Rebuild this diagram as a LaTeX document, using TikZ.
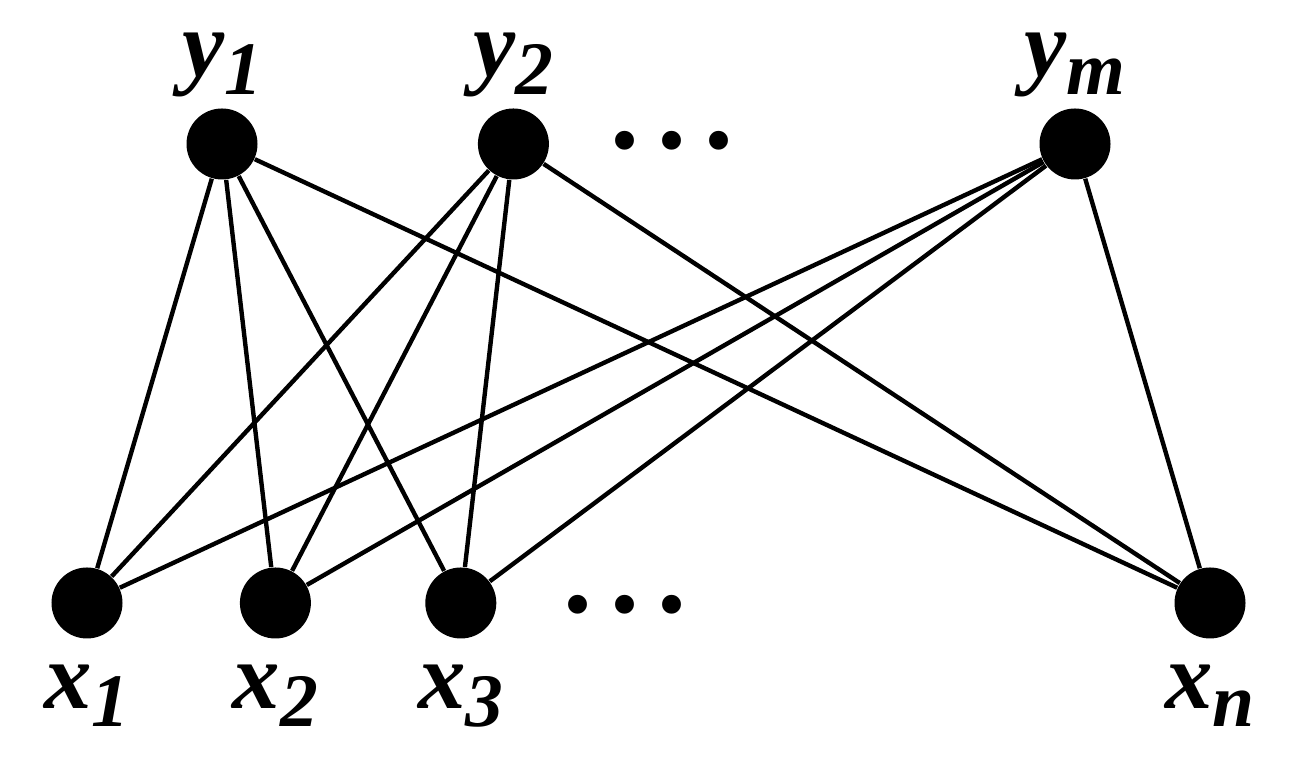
\documentclass[tikz,border=0pt]{standalone}
\usepackage{fontspec}
\setmainfont{Liberation Serif}
\usetikzlibrary{positioning}
\tikzstyle{vertex} = [circle, fill=black, draw=none, minimum size=0.71cm, inner sep=0pt]
\tikzstyle{edge} = [line width=1.25pt, black]
\tikzstyle{vlabel} = [inner sep=0pt, font=\bfseries\itshape]
\tikzstyle{dots} = [inner sep=0pt, font=\fontsize{33}{33}\selectfont\bfseries]
\newcommand{\vname}[2]{{\fontsize{27}{27}\selectfont #1}{\fontsize{21.5}{21.5}\selectfont\raisebox{-5.2pt}{#2}}}
\newcommand{\gapdots}{.\hspace{0.18cm}.\hspace{0.18cm}.}

\begin{document}
\begin{tikzpicture}
	\useasboundingbox (0,0) rectangle (12.96,7.66);

	% Top row
	\node (y1) [vertex] at (2.22,6.22) {};
	\node (y2) [vertex, right=2.19cm of y1] {};
	\node (ym) [vertex] at (10.75,6.22) {};
	\node (ydots) [dots] at (6.72,6.25) {\gapdots};

	% Bottom row
	\node (x1) [vertex] at (0.87,1.63) {};
	\node (x2) [vertex, right=1.16cm of x1] {};
	\node (x3) [vertex, right=1.13cm of x2] {};
	\node (xn) [vertex] at (12.10,1.63) {};
	\node (xdots) [dots] at (6.25,1.61) {\gapdots};

	% Labels
	\node (ly1) [vlabel, above=0.1cm of y1] {\vname{y}{1}};
	\node (ly2) [vlabel, above=0.1cm of y2] {\vname{y}{2}};
	\node (lym) [vlabel, above=0.1cm of ym] {\vname{y}{m}};
	\node (lx1) [vlabel, below=0.25cm of x1] {\vname{x}{1}};
	\node (lx2) [vlabel, below=0.25cm of x2] {\vname{x}{2}};
	\node (lx3) [vlabel, below=0.25cm of x3] {\vname{x}{3}};
	\node (lxn) [vlabel, below=0.25cm of xn] {\vname{x}{n}};

	% Edges from y1
	\draw[edge] (y1) -- (x1);
	\draw[edge] (y1) -- (x2);
	\draw[edge] (y1) -- (x3);
	\draw[edge] (y1) -- (xn);

	% Edges from y2
	\draw[edge] (y2) -- (x1);
	\draw[edge] (y2) -- (x2);
	\draw[edge] (y2) -- (x3);
	\draw[edge] (y2) -- (xn);

	% Edges from ym
	\draw[edge] (ym) -- (x1);
	\draw[edge] (ym) -- (x2);
	\draw[edge] (ym) -- (x3);
	\draw[edge] (ym) -- (xn);

\end{tikzpicture}
\end{document}
